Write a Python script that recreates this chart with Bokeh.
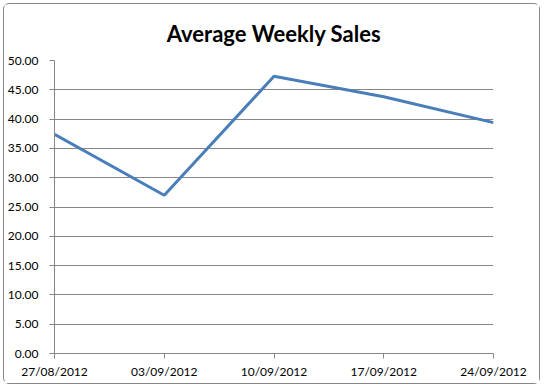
from bokeh.plotting import figure
from bokeh.models import Range1d, FixedTicker
from bokeh.embed import file_html
from bokeh.resources import INLINE

dates = ["27/08/2012", "03/09/2012", "10/09/2012", "17/09/2012", "24/09/2012"]
sales = [37.4, 27.0, 47.3, 43.8, 39.4]
y_ticks = [0, 5, 10, 15, 20, 25, 30, 35, 40, 45, 50]

xs = list(range(len(dates)))

p = figure(width=537, height=381, output_backend="svg", toolbar_location=None,
           x_range=Range1d(0, len(dates) - 1), y_range=Range1d(0, 50),
           min_border_left=50, min_border_right=48, min_border_top=55, min_border_bottom=32,
           title="Average Weekly Sales",
           styles={"border": "1px solid #868686", "border-radius": "6px",
                   "margin-left": "3px", "margin-top": "3px"})

p.title.align = "center"
p.title.text_font = "Lato"
p.title.text_font_size = "22px"
p.title.text_font_style = "bold"
p.title.text_color = "black"
p.title.standoff = 27

p.outline_line_color = None
p.background_fill_color = "white"
p.border_fill_color = "white"

p.line(xs, sales, line_color="#4A7EBB", line_width=3)

gray = "#868686"
p.xgrid.grid_line_color = None
p.ygrid.grid_line_color = gray
p.ygrid.grid_line_width = 1

p.yaxis.ticker = FixedTicker(ticks=y_ticks)
p.yaxis.major_label_overrides = {t: f"{t:.2f}" for t in y_ticks}
p.xaxis.ticker = FixedTicker(ticks=xs)
p.xaxis.major_label_overrides = {i: d for i, d in enumerate(dates)}

for ax in (p.xaxis, p.yaxis):
    ax.axis_line_color = gray
    ax.major_tick_line_color = gray
    ax.minor_tick_line_color = None
    ax.major_tick_in = 0
    ax.major_tick_out = 5
    ax.major_label_text_font = "Lato"
    ax.major_label_text_font_size = "12px"
    ax.major_label_text_color = "black"

p.yaxis.major_label_standoff = 11
p.xaxis.major_label_standoff = 5

open("out.html", "w").write(file_html(p, INLINE))
